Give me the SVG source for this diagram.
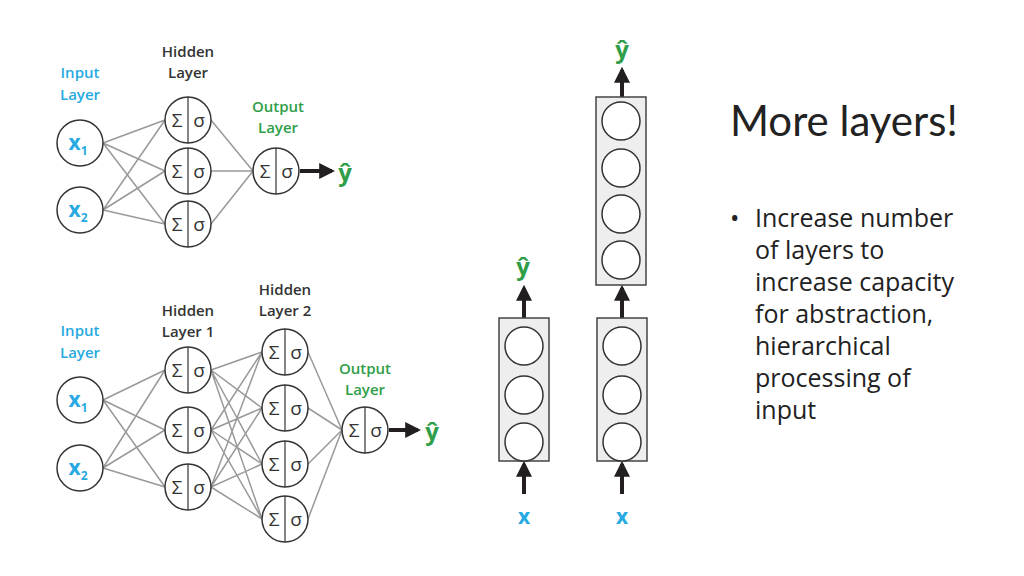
<svg xmlns="http://www.w3.org/2000/svg" width="1024" height="576" viewBox="0 0 1024 576">
<defs>
<marker id="ah" viewBox="0 0 10 10" refX="8" refY="5" markerWidth="4" markerHeight="4" orient="auto"><path d="M0,0 L10,5 L0,10 z" fill="#231f20"/></marker>
<g id="neu"><circle r="23" fill="#fff" stroke="#333" stroke-width="1.5"/><line x1="0" y1="-23" x2="0" y2="23" stroke="#333" stroke-width="1.2"/><text x="-11" y="7" class="s">Σ</text><text x="11" y="7" class="s">σ</text></g>
</defs>
<style>
text{font-family:"Open Sans","Liberation Sans",sans-serif}
.s{font-size:19px;fill:#333;text-anchor:middle}
.in{font-size:15px;fill:#27aae1;text-anchor:middle;font-weight:600}
.hd{font-size:15px;fill:#333;text-anchor:middle;font-weight:600}
.ou{font-size:15px;fill:#2e9e48;text-anchor:middle;font-weight:600}
.x{font-size:21px;fill:#27aae1;text-anchor:middle;font-weight:bold}
.yh{font-size:24px;fill:#2e9e48;text-anchor:middle;font-weight:bold}
.c{stroke:#999;stroke-width:1.5;fill:none}
.ar{stroke:#231f20;stroke-width:4;marker-end:url(#ah)}
.box{fill:#eee;stroke:#444;stroke-width:1.5}
.oc{fill:#fff;stroke:#333;stroke-width:1.5}
.big{font-family:Lato,"Open Sans",sans-serif;font-size:42px;fill:#222}
.b{font-family:Lato,"Open Sans",sans-serif;font-size:25px;fill:#222}
</style>
<rect width="1024" height="576" fill="#fff"/>
<g id="connectors">
<path class="c" d="M103,143L165,120M103,143L165,171M103,143L165,224M103,210L165,120M103,210L165,171M103,210L165,224M211,120L253,171M211,171L253,171M211,224L253,171"/>
<path class="c" d="M103,400L165,370M103,400L165,430M103,400L165,487M103,468L165,370M103,468L165,430M103,468L165,487"/>
<path class="c" d="M211,370L262,352M211,370L262,408M211,370L262,464M211,370L262,519M211,430L262,352M211,430L262,408M211,430L262,464M211,430L262,519M211,487L262,352M211,487L262,408M211,487L262,464M211,487L262,519"/>
<path class="c" d="M308,352L342,430M308,408L342,430M308,464L342,430M308,519L342,430"/>
<line class="ar" x1="300" y1="171" x2="332" y2="171"/>
<line class="ar" x1="389" y1="430" x2="418" y2="430"/>
<line class="ar" x1="524" y1="494" x2="524" y2="464"/>
<line class="ar" x1="524" y1="318" x2="524" y2="288"/>
<line class="ar" x1="622" y1="494" x2="622" y2="464"/>
<line class="ar" x1="622" y1="318" x2="622" y2="288"/>
<line class="ar" x1="622" y1="97" x2="622" y2="70"/>
</g>
<g id="top-labels">
<text class="in" x="80" y="78">Input</text><text class="in" x="80" y="100">Layer</text>
<text class="hd" x="188" y="57">Hidden</text><text class="hd" x="188" y="78">Layer</text>
<text class="ou" x="278" y="112">Output</text><text class="ou" x="278" y="133">Layer</text>
</g>
<g id="t-x1"><circle class="oc" cx="80" cy="143" r="23"/><text class="x" x="78" y="150">x<tspan font-size="12" dy="5">1</tspan></text></g>
<g id="t-x2"><circle class="oc" cx="80" cy="210" r="23"/><text class="x" x="78" y="217">x<tspan font-size="12" dy="5">2</tspan></text></g>
<g id="t-h1"><use href="#neu" x="188" y="120"/></g>
<g id="t-h2"><use href="#neu" x="188" y="171"/></g>
<g id="t-h3"><use href="#neu" x="188" y="224"/></g>
<g id="t-o"><use href="#neu" x="276" y="171"/></g>
<text class="yh" x="345" y="181">ŷ</text>
<g id="bottom-labels">
<text class="in" x="80" y="336">Input</text><text class="in" x="80" y="358">Layer</text>
<text class="hd" x="188" y="316">Hidden</text><text class="hd" x="188" y="337">Layer 1</text>
<text class="hd" x="285" y="295">Hidden</text><text class="hd" x="285" y="316">Layer 2</text>
<text class="ou" x="365" y="374">Output</text><text class="ou" x="365" y="395">Layer</text>
</g>
<g id="b-x1"><circle class="oc" cx="80" cy="400" r="23"/><text class="x" x="78" y="407">x<tspan font-size="12" dy="5">1</tspan></text></g>
<g id="b-x2"><circle class="oc" cx="80" cy="468" r="23"/><text class="x" x="78" y="475">x<tspan font-size="12" dy="5">2</tspan></text></g>
<g id="b-h11"><use href="#neu" x="188" y="370"/></g>
<g id="b-h12"><use href="#neu" x="188" y="430"/></g>
<g id="b-h13"><use href="#neu" x="188" y="487"/></g>
<g id="b-h21"><use href="#neu" x="285" y="352"/></g>
<g id="b-h22"><use href="#neu" x="285" y="408"/></g>
<g id="b-h23"><use href="#neu" x="285" y="464"/></g>
<g id="b-h24"><use href="#neu" x="285" y="519"/></g>
<g id="b-o"><use href="#neu" x="365" y="430"/></g>
<text class="yh" x="432" y="440">ŷ</text>
<g id="box1"><rect class="box" x="499" y="318" width="50" height="143"/><circle class="oc" cx="524" cy="346" r="19"/><circle class="oc" cx="524" cy="395" r="19"/><circle class="oc" cx="524" cy="442" r="19"/></g>
<g id="box2"><rect class="box" x="597" y="318" width="50" height="143"/><circle class="oc" cx="622" cy="346" r="19"/><circle class="oc" cx="622" cy="395" r="19"/><circle class="oc" cx="622" cy="442" r="19"/></g>
<g id="box3"><rect class="box" x="596" y="97" width="50" height="188"/><circle class="oc" cx="621" cy="121" r="19"/><circle class="oc" cx="621" cy="168" r="19"/><circle class="oc" cx="621" cy="214" r="19"/><circle class="oc" cx="621" cy="260" r="19"/></g>
<text class="yh" x="523" y="275" font-size="18">ŷ</text>
<text class="yh" x="622" y="58" font-size="18">ŷ</text>
<text class="x" x="524" y="524" font-size="18">x</text>
<text class="x" x="622" y="524" font-size="18">x</text>
<text class="big" x="730" y="136">More layers!</text>
<g class="b"><text x="730" y="227">•</text>
<text x="755" y="227">Increase number</text><text x="755" y="259">of layers to</text><text x="755" y="291">increase capacity</text><text x="755" y="323">for abstraction,</text><text x="755" y="355">hierarchical</text><text x="755" y="387">processing of</text><text x="755" y="419">input</text></g>
</svg>
